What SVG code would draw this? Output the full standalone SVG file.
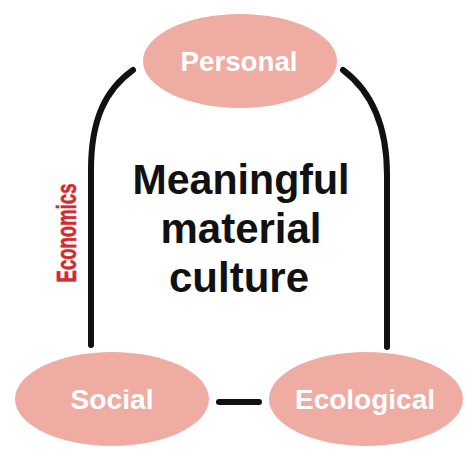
<svg xmlns="http://www.w3.org/2000/svg" width="474" height="458" viewBox="0 0 474 458">
<style>
.node ellipse{fill:#efaca3;}
.node text{font-family:"Liberation Sans",Arial,sans-serif;font-weight:bold;font-size:28px;fill:#ffffff;text-anchor:middle;}
.conn path{fill:none;stroke:#111111;stroke-width:6;stroke-linecap:round;}
.center{font-family:"Liberation Sans",Arial,sans-serif;font-weight:bold;font-size:42px;fill:#111111;text-anchor:middle;}
.econ{font-family:"Liberation Sans",Arial,sans-serif;font-weight:bold;font-size:27px;fill:#d42a2f;stroke:#d42a2f;stroke-width:0.6;text-anchor:middle;}
</style>
<rect width="474" height="458" fill="#ffffff"/>
<g id="connectors" class="conn">
<path d="M133,70 C105,90 91,120 91,170 L91,345"/>
<path d="M343,70 C371,91 387,125 387,175 L387,347"/>
<path d="M219,402 L259,402"/>
</g>
<g id="personal" class="node">
<ellipse cx="240" cy="61" rx="97" ry="47"/>
<text x="239" y="71" textLength="117" lengthAdjust="spacingAndGlyphs">Personal</text>
</g>
<g id="social" class="node">
<ellipse cx="112" cy="399" rx="97" ry="47"/>
<text x="112" y="409" textLength="83" lengthAdjust="spacingAndGlyphs">Social</text>
</g>
<g id="ecological" class="node">
<ellipse cx="366" cy="399" rx="97" ry="47"/>
<text x="365" y="409" textLength="140" lengthAdjust="spacingAndGlyphs">Ecological</text>
</g>
<g id="title">
<text class="center" x="241" y="194" textLength="217" lengthAdjust="spacingAndGlyphs">Meaningful</text>
<text class="center" x="241" y="243">material</text>
<text class="center" x="239" y="292">culture</text>
</g>
<g id="economics">
<text class="econ" transform="translate(76,233) rotate(-90)" textLength="99" lengthAdjust="spacingAndGlyphs">Economics</text>
</g>
</svg>
